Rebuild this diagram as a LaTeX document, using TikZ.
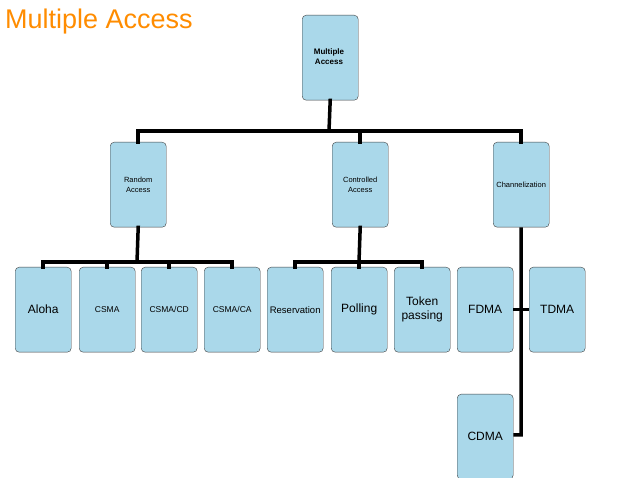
\documentclass[tikz,border=0pt]{standalone}
\usepackage{fontspec}
\setmainfont{Liberation Sans}
\begin{document}
\begin{tikzpicture}[x=1pt,y=-1pt,
 box/.style={draw=black!75,fill=cyan!25!white!85!teal,rounded corners=4pt,minimum width=56pt,minimum height=85pt,inner sep=1pt,align=center,anchor=north west},
 big/.style={font=\fontsize{12}{14}\selectfont},
 sm/.style={font=\fontsize{8.5}{10}\selectfont},
 tiny/.style={font=\fontsize{7.5}{10}\selectfont},
 ln/.style={line width=3.5pt,line cap=rect}]
\useasboundingbox (0,0) rectangle (638,478);
\node[anchor=north west,text=orange!90!yellow,font=\fontsize{27}{30}\selectfont,inner sep=0pt] (title) at (5,9) {Multiple Access};
\node[box,tiny,font=\fontsize{8}{10}\selectfont\bfseries,anchor=north west,text depth=0pt] (root) at (302,15) {};
\node[tiny,font=\fontsize{8}{10}\selectfont\bfseries,align=center] (rootl) at (329,57) {Multiple\\Access};
\node[box,tiny] (ra) at (110,142) {Random\\Access};
\node[box,tiny] (ca) at (332,142) {Controlled\\Access};
\node[box,tiny] (ch) at (493,142) {Channelization};
\node[box,big] (aloha) at (15,267) {Aloha};
\node[box,sm] (csma) at (79,267) {CSMA};
\node[box,sm] (cd) at (141,267) {CSMA/CD};
\node[box,sm] (cca) at (204,267) {CSMA/CA};
\node[box,sm,font=\fontsize{9.5}{11}\selectfont] (res) at (267,267) {Reservation};
\node[box,big] (pol) at (331,267) {Polling};
\node[box,big] (tok) at (394,267) {Token\\passing};
\node[box,big] (fdma) at (457,267) {FDMA};
\node[box,big] (tdma) at (529,267) {TDMA};
\node[box,big] (cdma) at (457,394) {CDMA};
% connectors
\coordinate (b1) at (329,131);
\draw[ln] (root.south) -- (b1);
\draw[ln] (ra.north) |- (b1) -| (ch.north);
\draw[ln] (ca.north) -- (ca.north |- b1);
\coordinate (b2) at (137,262);
\draw[ln] (ra.south) -- (b2);
\draw[ln] (aloha.north) |- (b2) -| (cca.north);
\draw[ln] (csma.north) -- (csma.north |- b2);
\draw[ln] (cd.north) -- (cd.north |- b2);
\coordinate (b3) at (359,262);
\draw[ln] (ca.south) -- (b3);
\draw[ln] (res.north) |- (b3) -| (tok.north);
\draw[ln] (pol.north) -- (pol.north |- b3);
\coordinate (c1) at (521,435);
\draw[ln,line cap=butt] (ch.south) -- (c1) -- (cdma.east |- c1);
\draw[ln,line cap=butt] (fdma.east) -- (tdma.west);
\end{tikzpicture}
\end{document}
